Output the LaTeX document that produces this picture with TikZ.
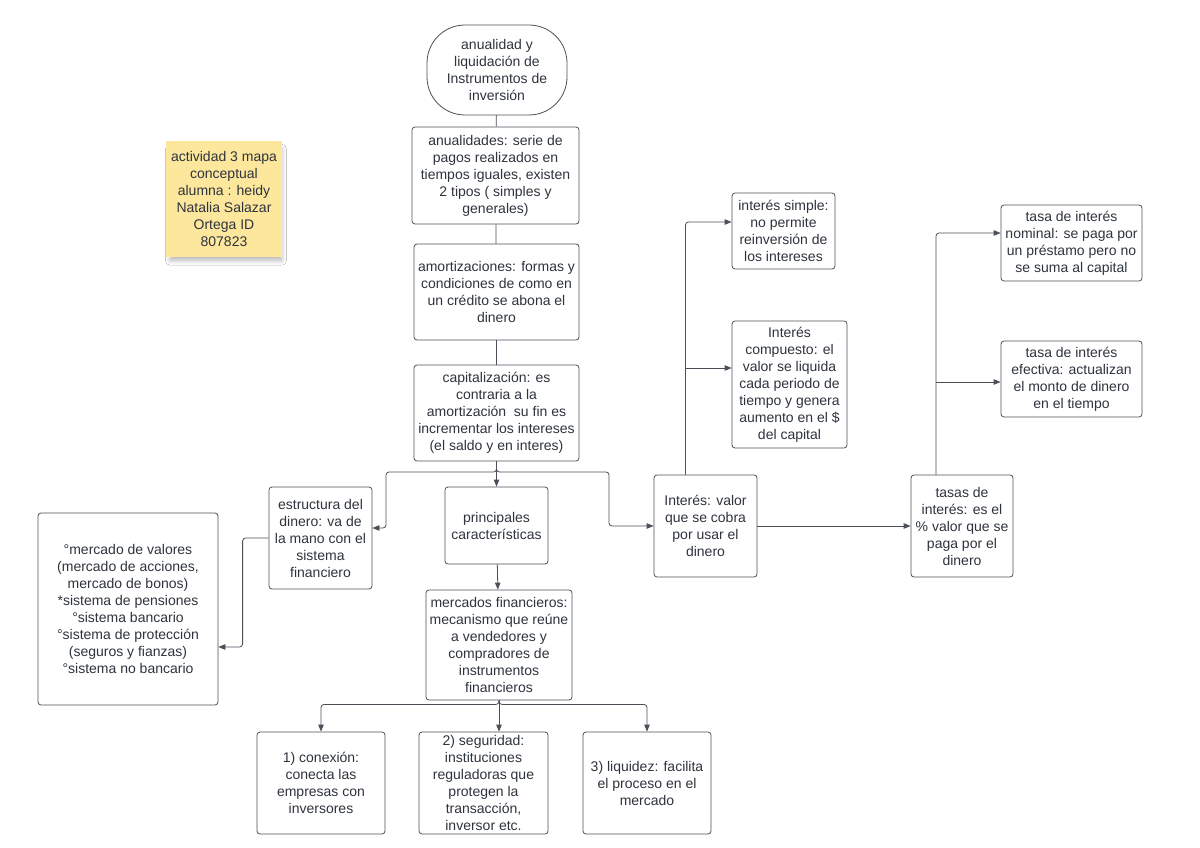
\documentclass[tikz,border=0pt]{standalone}
\usepackage{fontspec}
\setmainfont{Liberation Sans}
\usepackage{xcolor}
\usetikzlibrary{arrows.meta,shadows.blur}
\definecolor{linea}{HTML}{4B5058}
\definecolor{texto}{HTML}{2E343D}
\definecolor{nota}{HTML}{FCE79C}
\begin{document}
\begin{tikzpicture}[x=1pt,y=-1pt,
	caja/.style={draw=linea, line width=0.8pt, rounded corners=3pt, align=center, inner sep=1pt, text=texto, font=\fontsize{14}{17}\selectfont},
	flecha/.style={draw=linea, line width=0.8pt, rounded corners=3pt, -{Triangle[length=7pt,width=5.5pt]}},
	linea/.style={draw=linea, line width=0.8pt}]
\fill[white] (0,0) rectangle (1200,848);
\useasboundingbox (0,0) rectangle (1200,848);

\node[caja, rounded corners=38pt, minimum width=140pt, minimum height=90pt] (titulo) at (497,70) {anualidad y\\liquidación de\\Instrumentos de\\inversión};
\node[caja, minimum width=167pt, minimum height=97pt] (anualidades) at (495.5,175.5) {anualidades: serie de\\pagos realizados en\\tiempos iguales, existen\\2 tipos ( simples y\\generales)};
\node[caja, minimum width=165pt, minimum height=96pt] (amortizaciones) at (496.5,292) {amortizaciones: formas y\\condiciones de como en\\un crédito se abona el\\dinero};
\node[caja, minimum width=165pt, minimum height=96pt] (capitalizacion) at (496.5,413) {capitalización: es\\contraria a la\\amortización\ \ su fin es\\incrementar los intereses\\(el saldo y en interes)};
\node[caja, minimum width=103pt, minimum height=102pt] (estructura) at (320.5,538) {estructura del\\dinero: va de\\la mano con el\\sistema\\financiero};
\node[caja, minimum width=103pt, minimum height=77pt] (principales) at (496.5,525.5) {principales\\características};
\node[caja, minimum width=146pt, minimum height=110pt] (mercados) at (499,645) {mercados financieros:\\mecanismo que reúne\\a vendedores y\\compradores de\\instrumentos\\financieros};
\node[caja, minimum width=180pt, minimum height=192pt] (sistemas) at (128,609) {°mercado de valores\\(mercado de acciones,\\mercado de bonos)\\*sistema de pensiones\\°sistema bancario\\°sistema de protección\\(seguros y fianzas)\\°sistema no bancario};
\node[caja, minimum width=128pt, minimum height=102pt] (conexion) at (321,783) {1) conexión:\\conecta las\\empresas con\\inversores};
\node[caja, minimum width=129pt, minimum height=102pt] (seguridad) at (483.5,783) {2) seguridad:\\instituciones\\reguladoras que\\protegen la\\transacción,\\inversor etc.};
\node[caja, minimum width=128pt, minimum height=102pt] (liquidez) at (647,783) {3) liquidez: facilita\\el proceso en el\\mercado};
\node[caja, minimum width=103pt, minimum height=102pt] (interes) at (705.5,526) {Interés: valor\\que se cobra\\por usar el\\dinero};
\node[caja, minimum width=103pt, minimum height=76pt] (simple) at (783.5,231) {interés simple:\\no permite\\reinversión de\\los intereses};
\node[caja, minimum width=115pt, minimum height=127pt] (compuesto) at (789.5,384.5) {Interés\\compuesto: el\\valor se liquida\\cada periodo de\\tiempo y genera\\aumento en el \$\\del capital};
\node[caja, minimum width=102pt, minimum height=102pt] (tasas) at (962,526) {tasas de\\interés: es el\\\% valor que se\\paga por el\\dinero};
\node[caja, minimum width=141pt, minimum height=76pt] (nominal) at (1071.5,243) {tasa de interés\\nominal: se paga por\\un préstamo pero no\\se suma al capital};
\node[caja, minimum width=141pt, minimum height=76pt] (efectiva) at (1071.5,379) {tasa de interés\\efectiva: actualizan\\el monto de dinero\\en el tiempo};
\node[caja, draw=none, rounded corners=0pt, fill=nota, minimum width=116pt, minimum height=116pt,
	blur shadow={shadow xshift=2pt, shadow yshift=-6pt, shadow scale=0.96, shadow opacity=30, shadow blur radius=5pt, shadow blur steps=10}] (nota) at (224,199) {actividad 3 mapa\\conceptual\\alumna : heidy\\Natalia Salazar\\Ortega ID\\807823};

\coordinate (ramaI) at (386,472);
\coordinate (ramaD) at (609,472);

\draw[linea] (titulo) -- (anualidades);
\draw[linea] (anualidades) -- (amortizaciones);
\draw[linea] (amortizaciones) -- (capitalizacion);
\draw[flecha] (capitalizacion) -- (principales);
\draw[flecha] (capitalizacion.south) |- (ramaI) |- ([yshift=10pt]estructura.east);
\draw[flecha] (capitalizacion.south) |- (ramaD) |- (interes.west);
\draw[flecha] (estructura.west) -- ++(-26,0) |- ([yshift=-38pt]sistemas.east);
\draw[flecha] (principales) -- (mercados);
\foreach \n in {conexion,liquidez}
	\draw[flecha] (mercados.south) -- ++(0,4) -| (\n.north);
\draw[flecha] (mercados.south) -- (mercados.south |- seguridad.north);
\draw[flecha] ([xshift=-20pt]interes.north) |- ([yshift=9pt]simple.west);
\draw[flecha] ([xshift=-20pt]interes.north |- compuesto.west) ++(0,-16.5) -- ([yshift=16.5pt]compuesto.west);
\draw[flecha] (interes) -- (tasas);
\draw[flecha] ([xshift=-26pt]tasas.north) |- ([yshift=10pt]nominal.west);
\draw[flecha] ([xshift=-26pt]tasas.north |- efectiva.west) ++(0,3) -- ([yshift=-3pt]efectiva.west);
\end{tikzpicture}
\end{document}
